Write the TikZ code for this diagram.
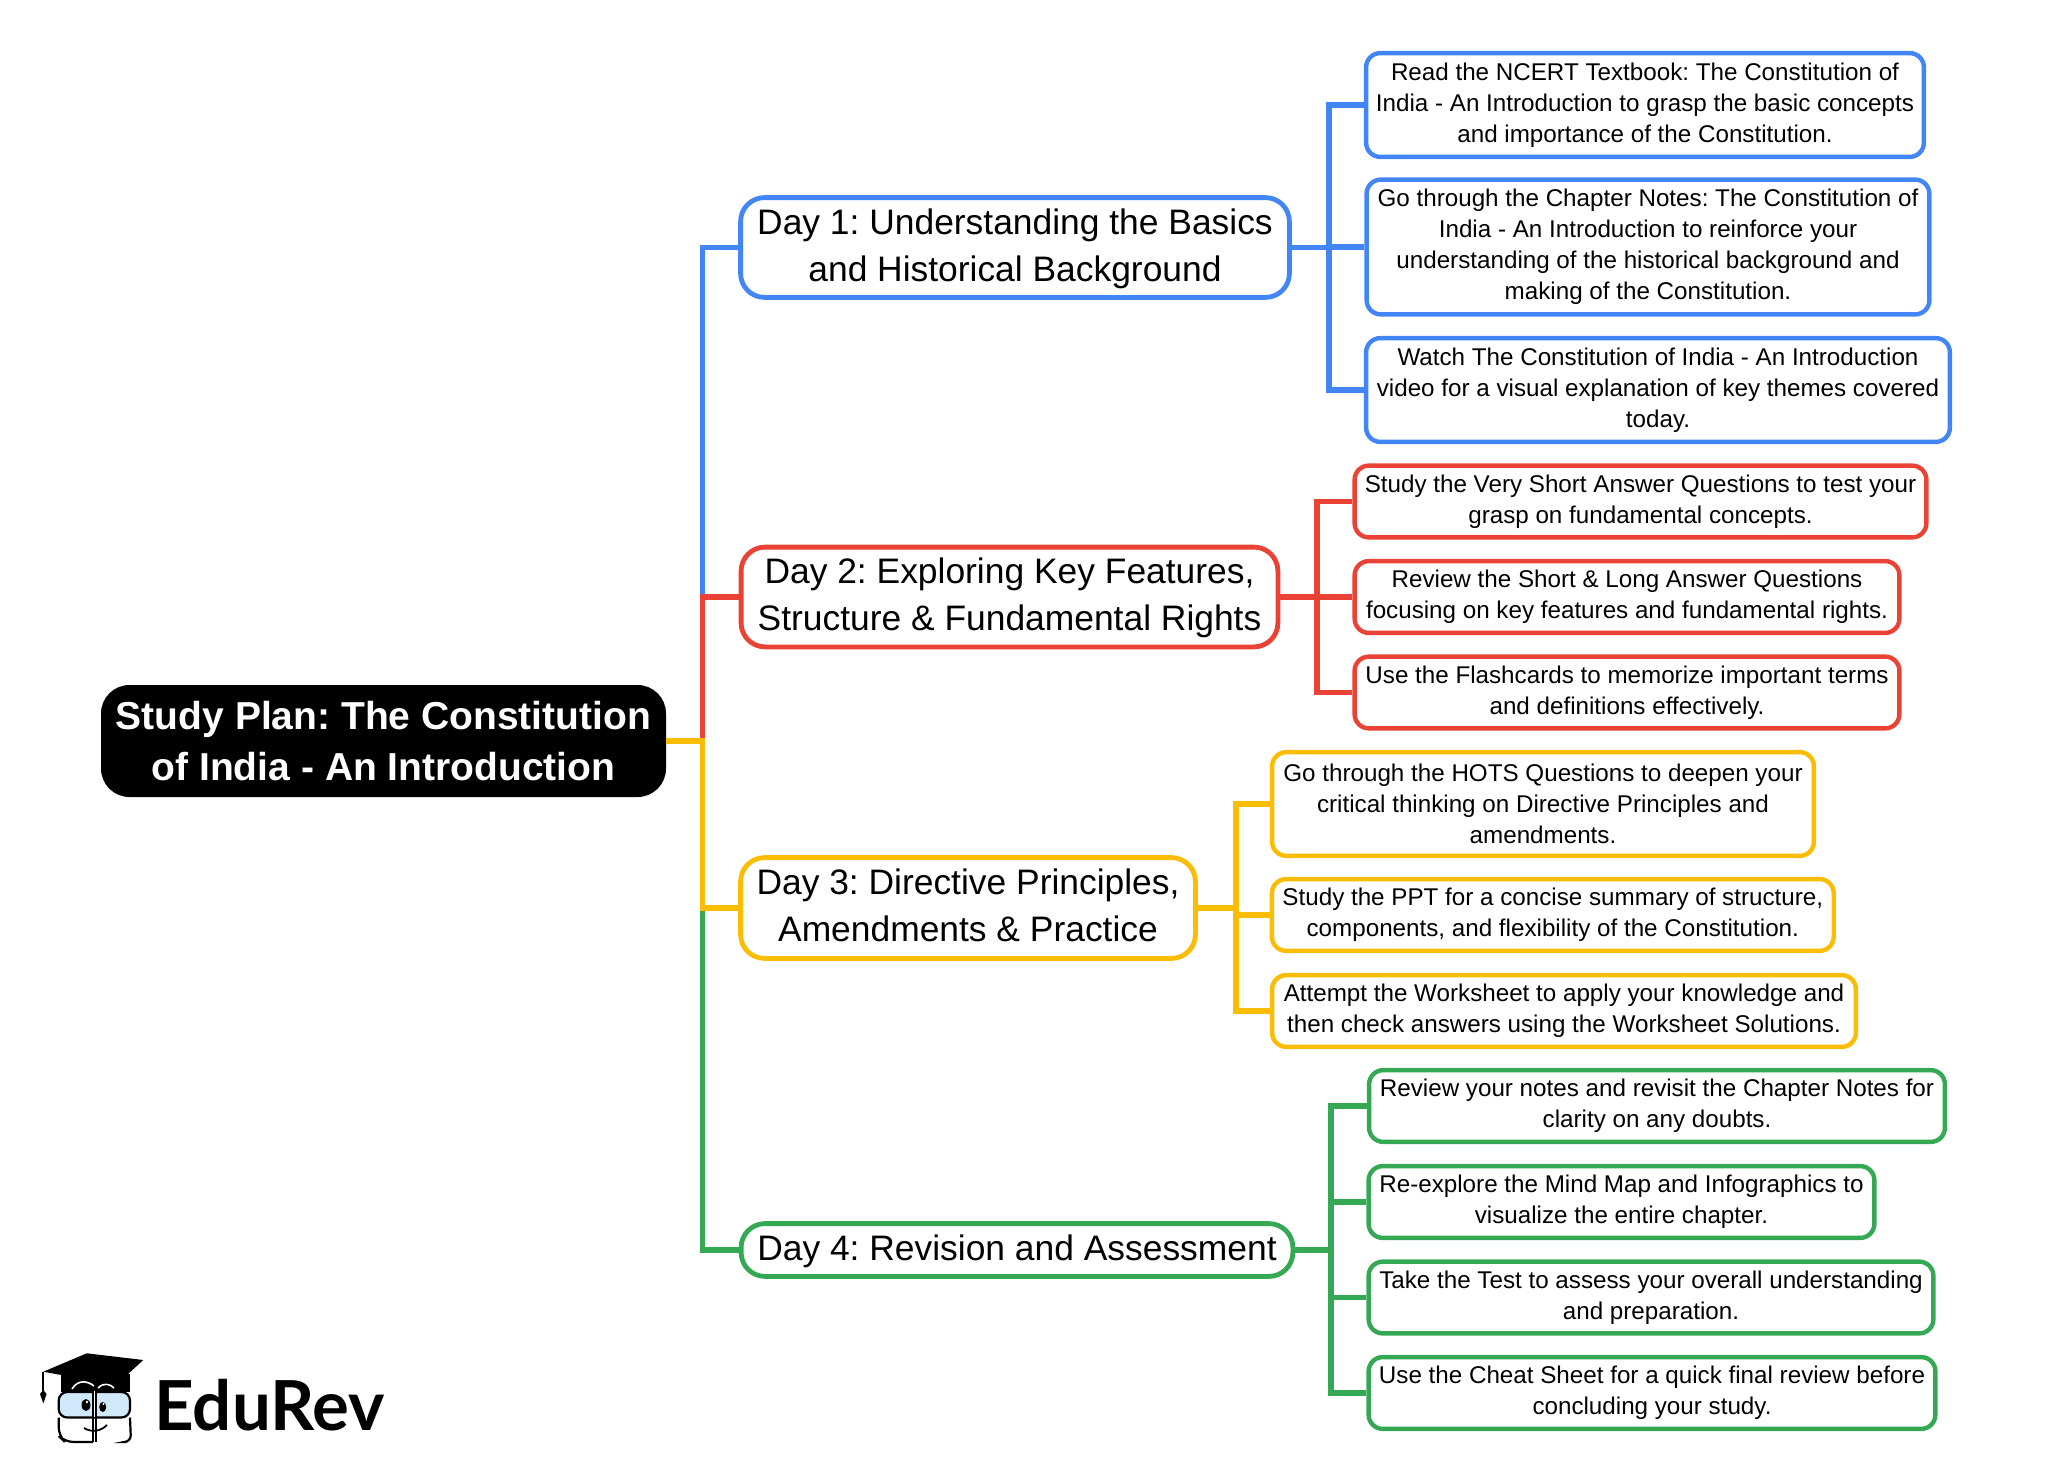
\documentclass[tikz,border=0pt]{standalone}
\usepackage{fontspec}
\setmainfont{Liberation Sans}
\newfontfamily\logofont{Lato}
\definecolor{planBlue}{HTML}{4285F4}
\definecolor{planRed}{HTML}{EA4335}
\definecolor{planYellow}{HTML}{FBBC04}
\definecolor{planGreen}{HTML}{34A853}
\definecolor{logoGlass}{HTML}{CFE8FA}
\begin{document}
\frenchspacing
\begin{tikzpicture}[x=0.5pt, y=-0.5pt,
		every node/.style={rectangle, align=center, inner sep=0pt},
		rootBox/.style={fill=black, text=white, rounded corners=5mm, font=\fontsize{19.5}{25.6}\selectfont\bfseries, minimum width=282.5pt, minimum height=56pt},
		dayBox/.style={fill=white, line width=2.4pt, rounded corners=4.2mm, text depth=2.4pt, font=\fontsize{17.7}{23.5}\selectfont},
		leafBox/.style={fill=white, line width=2.2pt, rounded corners=2.5mm, font=\fontsize{12.1}{15.5}\selectfont},
		link/.style={line width=2.9pt}]
		\useasboundingbox (0,0) rectangle (2053,1483);

		\node[rootBox] (root) at (383.5,741) {Study Plan: The Constitution\\of India - An Introduction};

		\node[dayBox, draw=planBlue, minimum width=274.4pt, minimum height=49.9pt] (dayOne) at (1015,247.5) {Day 1: Understanding the Basics\\and Historical Background};
		\node[dayBox, draw=planRed, minimum width=268.4pt, minimum height=49.9pt] (dayTwo) at (1009.5,597) {Day 2: Exploring Key Features,\\Structure \& Fundamental Rights};
		\node[dayBox, draw=planYellow, minimum width=227.4pt, minimum height=50.4pt] (dayThree) at (968,908) {Day 3: Directive Principles,\\Amendments \& Practice};
		\node[dayBox, draw=planGreen, minimum width=275.9pt, minimum height=26.4pt] (dayFour) at (1017,1250) {Day 4: Revision and Assessment};

		\node[leafBox, draw=planBlue, minimum width=278.9pt, minimum height=51.9pt] (leafOneA) at (1645,105) {Read the NCERT Textbook: The Constitution of\\India - An Introduction to grasp the basic concepts\\and importance of the Constitution.};
		\node[leafBox, draw=planBlue, minimum width=281.4pt, minimum height=67.4pt] (leafOneB) at (1648,247) {Go through the Chapter Notes: The Constitution of\\India - An Introduction to reinforce your\\understanding of the historical background and\\making of the Constitution.};
		\node[leafBox, draw=planBlue, minimum width=291.9pt, minimum height=51.9pt] (leafOneC) at (1658,390) {Watch The Constitution of India - An Introduction\\video for a visual explanation of key themes covered\\today.};

		\node[leafBox, draw=planRed, minimum width=285.9pt, minimum height=35.9pt] (leafTwoA) at (1640.5,501.5) {Study the Very Short Answer Questions to test your\\grasp on fundamental concepts.};
		\node[leafBox, draw=planRed, minimum width=272.4pt, minimum height=35.9pt] (leafTwoB) at (1627,597) {Review the Short \& Long Answer Questions\\focusing on key features and fundamental rights.};
		\node[leafBox, draw=planRed, minimum width=272.4pt, minimum height=35.9pt] (leafTwoC) at (1627,692.5) {Use the Flashcards to memorize important terms\\and definitions effectively.};

		\node[leafBox, draw=planYellow, minimum width=270.9pt, minimum height=51.9pt] (leafThreeA) at (1543,804) {Go through the HOTS Questions to deepen your\\critical thinking on Directive Principles and\\amendments.};
		\node[leafBox, draw=planYellow, minimum width=280.9pt, minimum height=35.9pt] (leafThreeB) at (1552.8,915) {Study the PPT for a concise summary of structure,\\components, and flexibility of the Constitution.};
		\node[leafBox, draw=planYellow, minimum width=291.9pt, minimum height=35.9pt] (leafThreeC) at (1564,1011) {Attempt the Worksheet to apply your knowledge and\\then check answers using the Worksheet Solutions.};

		\node[leafBox, draw=planGreen, minimum width=287.9pt, minimum height=35.9pt] (leafFourA) at (1657,1106) {Review your notes and revisit the Chapter Notes for\\clarity on any doubts.};
		\node[leafBox, draw=planGreen, minimum width=252.9pt, minimum height=35.9pt] (leafFourB) at (1621.5,1202) {Re-explore the Mind Map and Infographics to\\visualize the entire chapter.};
		\node[leafBox, draw=planGreen, minimum width=282.4pt, minimum height=35.9pt] (leafFourC) at (1651,1297.5) {Take the Test to assess your overall understanding\\and preparation.};
		\node[leafBox, draw=planGreen, minimum width=283.4pt, minimum height=35.9pt] (leafFourD) at (1652,1393) {Use the Cheat Sheet for a quick final review before\\concluding your study.};

		\draw[link, planBlue] (root.east) -- ++(36,0) |- (dayOne.west);
		\draw[link, planRed] (root.east) -- ++(36,0) |- (dayTwo.west);
		\draw[link, planGreen] (root.east) -- ++(36,0) |- (dayFour.west);
		\draw[link, planYellow] (root.east) -- ++(36,0) |- (dayThree.west);

		\draw[link, planBlue] (dayOne.east) -- ++(37,0) |- (leafOneA.west);
		\draw[link, planBlue] (dayOne.east) -- ++(37,0) |- (leafOneB.west);
		\draw[link, planBlue] (dayOne.east) -- ++(37,0) |- (leafOneC.west);

		\draw[link, planRed] (dayTwo.east) -- ++(37,0) |- (leafTwoA.west);
		\draw[link, planRed] (dayTwo.east) -- ++(37,0) |- (leafTwoB.west);
		\draw[link, planRed] (dayTwo.east) -- ++(37,0) |- (leafTwoC.west);

		\draw[link, planYellow] (dayThree.east) -- ++(38,0) |- (leafThreeA.west);
		\draw[link, planYellow] (dayThree.east) -- ++(38,0) |- (leafThreeB.west);
		\draw[link, planYellow] (dayThree.east) -- ++(38,0) |- (leafThreeC.west);

		\draw[link, planGreen] (dayFour.east) -- ++(36,0) |- (leafFourA.west);
		\draw[link, planGreen] (dayFour.east) -- ++(36,0) |- (leafFourB.west);
		\draw[link, planGreen] (dayFour.east) -- ++(36,0) |- (leafFourC.west);
		\draw[link, planGreen] (dayFour.east) -- ++(36,0) |- (leafFourD.west);

		% logo
		\node[anchor=base west, font=\logofont\bfseries\fontsize{34.5}{34.5}\selectfont] (logoText) at (154,1430) {EduRev};
		\fill (60.7,1374) rectangle (130,1392);
		\draw[white, line width=0.8pt] (72,1389) .. controls (78,1379) and (88,1381) .. (94,1386);
		\draw[white, line width=0.8pt] (98,1388) .. controls (104,1382) and (110,1384) .. (114,1388);
		\fill (43.3,1371.7) -- (86.7,1353.3) -- (143.3,1360) -- (116,1385) -- cycle;
		\draw[line width=1pt] (43.3,1371.7) -- (43.3,1392);
		\fill (43.3,1403.5) -- (40,1394) -- (43.3,1390) -- (46.6,1394) -- cycle;
		\draw[line width=1.1pt, fill=logoGlass, rounded corners=1.5mm] (58.7,1392) rectangle (130,1417.5);
		\draw[line width=1.1pt, rounded corners=1.5mm] (93,1442) -- (65,1442) -- (58.7,1436) -- (58.7,1417.5);
		\draw[line width=1.1pt, rounded corners=1.2mm] (130,1417.5) -- (131,1442) -- (126,1442);
		\draw[line width=1.2pt] (93,1390) -- (93,1442);
		\draw[line width=1pt] (96,1390) -- (96,1442);
		\draw[white, line width=0.8pt] (94.5,1391) -- (94.5,1417);
		\fill (86,1405) ellipse (4.5 and 6);
		\fill (102.7,1407) ellipse (3.5 and 5);
		\fill[white] (87,1402) circle (1.3);
		\fill[white] (103.5,1404) circle (1.1);
		\draw[line width=0.9pt] (84,1428) .. controls (92,1433) and (101,1431) .. (107,1425);
	\end{tikzpicture}
\end{document}
